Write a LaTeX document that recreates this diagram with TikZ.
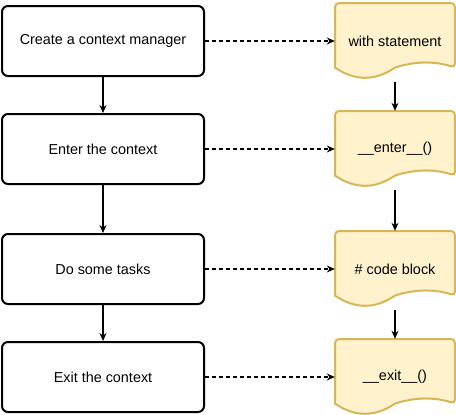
\documentclass[tikz,border=0pt]{standalone}
\usepackage{fontspec}
\setmainfont{Liberation Sans}
\usetikzlibrary{arrows.meta,backgrounds}
\definecolor{docfill}{HTML}{FFF2CC}
\definecolor{docline}{HTML}{D6B656}
\begin{document}
\begin{tikzpicture}
[x=1pt,y=-1pt,
 boxdecorate/.style={shape=rectangle,rounded corners=6pt,draw,line width=2pt,%
   minimum width=202pt,minimum height=70pt,inner sep=0pt,font=\fontsize{14.4}{17}\selectfont},%
 docdecorate/.style={shape=rectangle,minimum width=120pt,minimum height=76pt,%
   inner sep=0pt,font=\fontsize{14.4}{17}\selectfont},%
 docshape/.style={fill=docfill,draw=docline,line width=2pt},%
 linedecorate/.style={-{Stealth[length=8pt,width=7pt]},line width=1.2pt},%
 dashdecorate/.style={linedecorate,dash pattern=on 4pt off 3pt}]
\useasboundingbox (0,0) rectangle (456,415);
%% steps on the left
\node (create) at (103,41) [boxdecorate] {Create a context manager};
\node (enterctx) at (103,149) [boxdecorate] {Enter the context};
\node (tasks) at (103,269) [boxdecorate] {Do some tasks};
\node (exitctx) at (103,377) [boxdecorate] {Exit the context};
%% documents on the right
\node (with) at (395,41) [docdecorate] {with statement};
\node (enter) at (395,149) [docdecorate] {\_\_enter\_\_()};
\node (code) at (395,269) [docdecorate] {\# code block};
\node (exit) at (395,377) [docdecorate] {\_\_exit\_\_()};
%% document outlines behind the text
\begin{scope}[on background layer]
\foreach \d in {with,enter,code,exit}
  \filldraw[docshape,shift={(\d.center)}]
    [rounded corners=4pt] (-60,26.6) -- (-60,-38) -- (60,-38) -- (60,26.6)
    [sharp corners] .. controls (40,20) and (20,20) .. (0,26.6)
    .. controls (-20,40.2) and (-40,40.2) .. (-60,26.6) -- cycle;
\end{scope}
%% edges or lines
\path
(create) edge[linedecorate] (enterctx)
(enterctx) edge[linedecorate] (tasks)
(tasks) edge[linedecorate] (exitctx)
(with) edge[linedecorate,shorten <=3pt] (enter)
(enter) edge[linedecorate,shorten <=3pt] (code)
(code) edge[linedecorate,shorten <=3pt] (exit)
(create) edge[dashdecorate] (with)
(enterctx) edge[dashdecorate] (enter)
(tasks) edge[dashdecorate] (code)
(exitctx) edge[dashdecorate] (exit);
\end{tikzpicture}
\end{document}
